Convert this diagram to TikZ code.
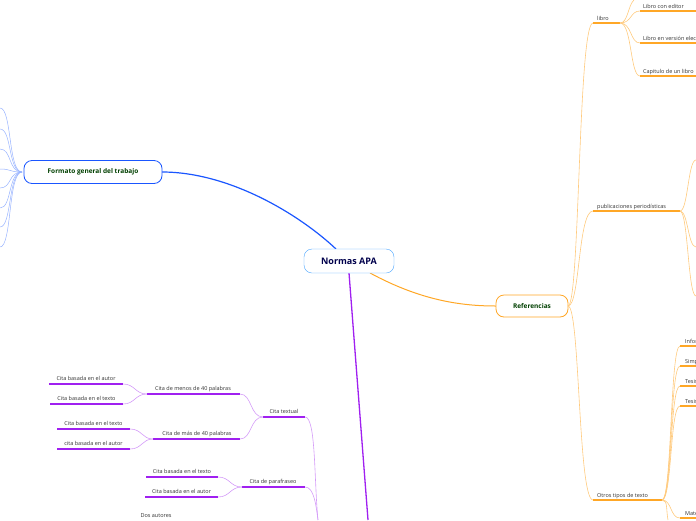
\documentclass[tikz,border=0pt]{standalone}
\usepackage{fontspec}
\setmainfont{Open Sans}
\definecolor{myor}{HTML}{FFA726}
\definecolor{mypu}{HTML}{A020F0}
\definecolor{mybl}{HTML}{1A56FF}
\begin{document}
\begin{tikzpicture}[x=1pt,y=-1pt,
 lbl/.style={font=\fontsize{5.5}{6}\selectfont,text=black!80,inner sep=0pt,anchor=base},
 ol/.style={draw=myor!60,line width=0.6pt},
 ou/.style={draw=myor,line width=1.3pt},
 pl/.style={draw=mypu!45,line width=0.6pt},
 pu/.style={draw=mypu,line width=1.3pt},
 bl/.style={draw=mybl!45,line width=0.5pt}]
\useasboundingbox (0,0) rectangle (696,520);
% main connectors
\coordinate (c1) at (336,249);
\coordinate (c2) at (370,273);
\coordinate (c3) at (349,273);
\coordinate (pend) at (368,520);
\draw[mybl,line width=1.2pt] (c1) .. controls (300,215) and (230,172) .. (162,172);
\draw[myor,line width=1pt] (c2) .. controls (420,300) and (460,306) .. (496,306);
\draw[mypu,line width=1.3pt] (c3) -- (pend);
\node[draw=blue!50!cyan!70,rounded corners=8pt,fill=white,minimum width=90pt,minimum height=24pt,font=\bfseries\fontsize{9}{10}\selectfont,text=blue!30!black] (apa) at (349,261) {Normas APA};
\node[draw=mybl,line width=0.8pt,rounded corners=8pt,fill=white,minimum width=138pt,minimum height=23pt,font=\bfseries\fontsize{6.5}{7}\selectfont,text=green!25!black] (fmt) at (93,172) {Formato general del trabajo};
\node[draw=myor,line width=0.8pt,rounded corners=8pt,fill=white,minimum width=72pt,minimum height=22pt,font=\bfseries\fontsize{6.5}{7}\selectfont,text=green!25!black] (ref) at (532,306) {Referencias};
% blue fan
\coordinate (bf) at (22,172);
\foreach \y in {108,129,149,169,188,208,227,247}
  \draw[bl] (bf) .. controls (8,172) and (12,\y) .. (0,\y);
% Referencias branches
\coordinate (rr) at (568,306);
\foreach \nm/\lab/\xa/\xb/\y/\lx in {libro/libro/593/620/23/603,pub/publicaciones periodísticas/593/680/211/637,otros/Otros tipos de texto/593/662/500/625}{
  \draw[ol] (rr) .. controls (580,306) and (578,\y) .. (\xa,\y);
  \draw[ou] (\xa,\y) -- (\xb,\y);
  \node[lbl,anchor=base west] (\nm) at (597,\y-3) {\lab};
}
\coordinate (lb) at (620,23);
\draw[ol] (lb) .. controls (628,23) and (628,5) .. (634,0);
\foreach \lab/\y in {Libro con editor/11,Libro en versión electrónica/43,Capitulo de un libro/76}{
  \draw[ol] (lb) .. controls (632,23) and (630,\y) .. (640,\y);
  \draw[ou] (640,\y) -- (696,\y);
  \node[lbl,anchor=base west] at (643,\y-3) {\lab};
}
\coordinate (pb) at (680,211);
\foreach \y in {160,247,296}
  \draw[ol] (pb) .. controls (688,211) and (688,\y) .. (696,\y);
\coordinate (ob) at (662,500);
\foreach \lab/\y in {Informe/346,Simposio/366,Tesis/386,Tesis/406,Material/518}{
  \draw[ol] (ob) .. controls (672,500) and (670,\y) .. (680,\y);
  \draw[ou] (680,\y) -- (696,\y);
  \node[lbl,anchor=base west] at (685,\y-3) {\lab};
}
\draw[ol] (ob) .. controls (668,500) and (666,510) .. (668,520);
% purple side
\coordinate (ct) at (305,417);
\coordinate (cp) at (305,487);
\draw[pl] (ct) .. controls (316,417) and (314,480) .. (318,520);
\draw[pl] (cp) .. controls (314,487) and (316,505) .. (318,520);
\draw[pu] (263,417) -- (ct); \node[lbl] (ctl) at (284,413) {Cita textual};
\draw[pu] (242,487) -- (cp); \node[lbl] (cpl) at (273,483) {Cita de parafraseo};
\draw[pu] (147,394) -- (240,394); \node[lbl] (m40) at (193,390) {Cita de menos de 40 palabras};
\draw[pu] (153,439) -- (240,439); \node[lbl] (M40) at (197,435) {Cita de más de 40 palabras};
\draw[pl] (240,394) .. controls (252,394) and (250,417) .. (263,417);
\draw[pl] (240,439) .. controls (252,439) and (250,417) .. (263,417);
\foreach \lab/\xa/\xb/\y/\j in {Cita basada en el autor/49/123/384/147,Cita basada en el texto/50/123/404/147,Cita basada en el texto/57/130/429/153,cita basada en el autor/57/130/449/153}{
  \draw[pu] (\xa,\y) -- (\xb,\y);
  \node[lbl] at ({(\xa+\xb)/2},\y-4) {\lab};
}
\draw[pl] (123,384) .. controls (135,384) and (135,394) .. (147,394);
\draw[pl] (123,404) .. controls (135,404) and (135,394) .. (147,394);
\draw[pl] (130,429) .. controls (142,429) and (142,439) .. (153,439);
\draw[pl] (130,449) .. controls (142,449) and (142,439) .. (153,439);
\foreach \lab/\xa/\y in {Cita basada en el texto/146/477,Cita basada en el autor/145/497}{
  \draw[pu] (\xa,\y) -- (218,\y);
  \node[lbl] at ({(\xa+218)/2},\y-4) {\lab};
  \draw[pl] (218,\y) .. controls (230,\y) and (230,487) .. (242,487);
}
\node[lbl] (dos) at (156,517) {Dos autores};
\end{tikzpicture}
\end{document}
